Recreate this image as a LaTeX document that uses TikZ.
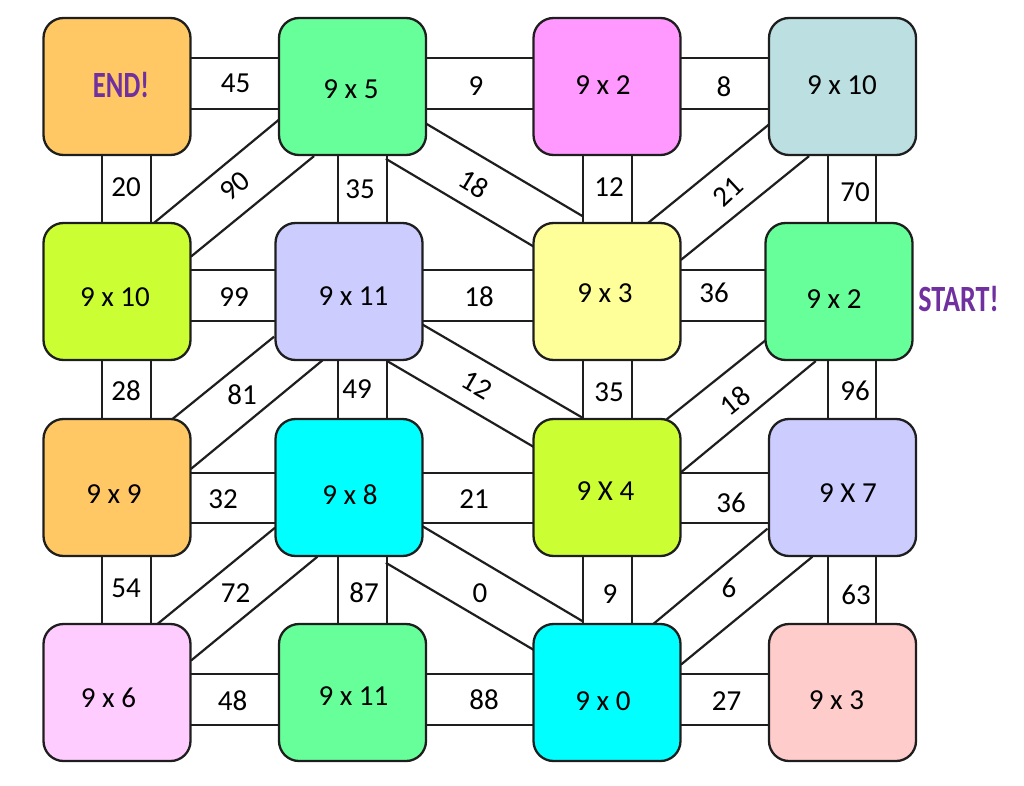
\documentclass[tikz,border=0pt]{standalone}
\usepackage{fontspec}
\setmainfont{Carlito}
\pgfdeclarelayer{bg}
\pgfsetlayers{bg,main}
\definecolor{cOr}{HTML}{FFC864}
\definecolor{cGr}{HTML}{66FF99}
\definecolor{cPk}{HTML}{FF99FF}
\definecolor{cTe}{HTML}{BCE0E2}
\definecolor{cLi}{HTML}{CCFF33}
\definecolor{cLa}{HTML}{CCCCFF}
\definecolor{cYe}{HTML}{FFFF99}
\definecolor{cCy}{HTML}{00FFFF}
\definecolor{cLp}{HTML}{FFCCFF}
\definecolor{cSa}{HTML}{FFCCCC}
\definecolor{cPu}{HTML}{7030A0}
\definecolor{cLn}{HTML}{1E1E1E}
\tikzset{
  box/.style={draw=cLn, line width=2.3pt, rounded corners=20pt,
    minimum width=147pt, minimum height=137pt, inner sep=0pt},
  wall/.style={draw=cLn, line width=2.2pt, shorten >=-1pt, shorten <=-1pt},
  num/.style={font=\fontsize{29}{33}\selectfont, text=black, inner sep=0pt},
  flag/.style={font=\fontsize{37}{40}\selectfont\bfseries, text=cPu, inner sep=0pt}
}
\newcommand\wall[4]{\draw[wall] ([shift={(#2)}]#1.center) -- ([shift={(#4)}]#3.center);}
\newcommand\hcorr[4]{\wall{#1}{0,#3}{#2}{0,#3}\wall{#1}{0,#4}{#2}{0,#4}}
\newcommand\vcorr[6]{\wall{#1}{#3,0}{#2}{#5,0}\wall{#1}{#4,0}{#2}{#6,0}}
\begin{document}
\begin{tikzpicture}[x=1pt,y=-1pt]
\useasboundingbox (0,0) rectangle (1024,786);
% boxes
\node[box,fill=cOr] (b11) at (117,86.5) {};
\node[box,fill=cGr] (b12) at (352.5,86.5) {};
\node[box,fill=cPk] (b13) at (607,86.5) {};
\node[box,fill=cTe] (b14) at (842.5,86.5) {};
\node[box,fill=cLi] (b21) at (117,291.5) {};
\node[box,fill=cLa] (b22) at (349,291.5) {};
\node[box,fill=cYe] (b23) at (607,291.5) {};
\node[box,fill=cGr] (b24) at (839,291.5) {};
\node[box,fill=cOr] (b31) at (117,487.5) {};
\node[box,fill=cCy] (b32) at (349,487.5) {};
\node[box,fill=cLi] (b33) at (607,487.5) {};
\node[box,fill=cLa] (b34) at (842.5,487.5) {};
\node[box,fill=cLp] (b41) at (117,692.5) {};
\node[box,fill=cGr] (b42) at (352.5,692.5) {};
\node[box,fill=cCy] (b43) at (607,692.5) {};
\node[box,fill=cSa] (b44) at (842.5,692.5) {};
% corridors
\begin{pgfonlayer}{bg}
\hcorr{b11}{b12}{-28.2}{22.5}\hcorr{b12}{b13}{-28.2}{22.5}\hcorr{b13}{b14}{-28.2}{22.5}
\hcorr{b21}{b22}{-21.5}{29.5}\hcorr{b22}{b23}{-21.5}{29.5}\hcorr{b23}{b24}{-21.5}{29.5}
\hcorr{b31}{b32}{-14.5}{35.5}\hcorr{b32}{b33}{-14.5}{35.5}\hcorr{b33}{b34}{-14.5}{35.5}
\hcorr{b41}{b42}{-18.2}{32.5}\hcorr{b42}{b43}{-18.2}{32.5}\hcorr{b43}{b44}{-18.2}{32.5}
\vcorr{b11}{b21}{-15}{34}{-15}{34}\vcorr{b21}{b31}{-15}{34}{-15}{34}\vcorr{b31}{b41}{-15}{34}{-15}{34}
\vcorr{b12}{b22}{-14.5}{34.5}{-11}{38}\vcorr{b22}{b32}{-11}{38}{-11}{38}\vcorr{b32}{b42}{-11}{38}{-14.5}{34.5}
\vcorr{b13}{b23}{-24}{25}{-24}{25}\vcorr{b23}{b33}{-24}{25}{-24}{25}\vcorr{b33}{b43}{-24}{25}{-24}{25}
\vcorr{b14}{b24}{-14.5}{33.5}{-11}{37}\vcorr{b24}{b34}{-11}{37}{-14.5}{33.5}\vcorr{b34}{b44}{-14.5}{33.5}{-14.5}{33.5}
% diagonals
\wall{b12}{-74.8,34.2}{b21}{37.3,-68.8}\wall{b12}{-39.2,70.2}{b21}{74.7,-35.5}
\wall{b12}{74.2,37.5}{b23}{-24.7,-75.5}\wall{b12}{34.2,72.8}{b23}{-74.3,-45.5}
\wall{b14}{-74.2,38.5}{b23}{41.3,-68.8}\wall{b14}{-34.2,70.2}{b23}{74.7,-32.2}
\wall{b22}{-75.7,45.8}{b31}{56.3,-69.2}\wall{b22}{-27.3,69.5}{b31}{74.7,-19.2}
\wall{b22}{74.3,33.5}{b33}{-25.3,-70.2}\wall{b22}{39.3,70.2}{b33}{-73.7,-40.8}
\wall{b24}{-74,49.2}{b33}{59.7,-68.2}\wall{b24}{-24,70.2}{b33}{74.7,-15.8}
\wall{b32}{-74.7,40.8}{b41}{41.3,-69.2}\wall{b32}{-32.3,69.8}{b41}{74.7,-32.5}
\wall{b32}{74.3,39.2}{b43}{-25.3,-71.8}\wall{b32}{37.7,75.8}{b43}{-74.3,-43.2}
\wall{b34}{-75.8,41.8}{b43}{46.3,-68.5}\wall{b34}{-30.8,69.8}{b43}{74.7,-28.5}
\end{pgfonlayer}
% box texts
\node[flag] (t11) at (121,85) {\scalebox{0.72}[1]{END!}};
\node[num] (t12) at (351,89) {9 x 5};
\node[num] (t13) at (603,85) {9 x 2};
\node[num] (t14) at (842,85) {9 x 10};
\node[num] (t21) at (115,297) {9 x 10};
\node[num] (t22) at (353.5,296) {9 x 11};
\node[num] (t23) at (605,293) {9 x 3};
\node[num] (t24) at (834,299) {9 x 2};
\node[flag] (tst) at (958.5,299) {\scalebox{0.76}[1]{START!}};
\node[num] (t31) at (114,494) {9 x 9};
\node[num] (t32) at (350,495) {9 x 8};
\node[num] (t33) at (605.5,491) {9 X 4};
\node[num] (t34) at (848,493) {9 X 7};
\node[num] (t41) at (108.5,698) {9 x 6};
\node[num] (t42) at (353.5,696) {9 x 11};
\node[num] (t43) at (603,701) {9 x 0};
\node[num] (t44) at (836.5,700) {9 x 3};
% corridor numbers
\node[num] (n1) at (235.5,83) {45};
\node[num] (n2) at (476,86) {9};
\node[num] (n3) at (724,87) {8};
\node[num] (n4) at (126,187.5) {20};
\node[num] (n5) at (360,189.5) {35};
\node[num] (n6) at (609,187) {12};
\node[num] (n7) at (855,192) {70};
\node[num,rotate=39] (n8) at (235,186) {90};
\node[num,rotate=-31] (n9) at (474,184) {18};
\node[num,rotate=43] (n10) at (728,192) {21};
\node[num] (n11) at (234,297) {99};
\node[num] (n12) at (479,297) {18};
\node[num] (n13) at (714,293) {36};
\node[num] (n14) at (126,391) {28};
\node[num] (n15) at (357,389) {49};
\node[num] (n16) at (609,392) {35};
\node[num] (n17) at (855,391) {96};
\node[num] (n18) at (242,395) {81};
\node[num,rotate=-30] (n19) at (477,385) {12};
\node[num,rotate=39] (n20) at (735,401) {18};
\node[num] (n21) at (223,499) {32};
\node[num] (n22) at (474,499) {21};
\node[num] (n23) at (731,503) {36};
\node[num] (n24) at (126,588) {54};
\node[num] (n25) at (235.5,593) {72};
\node[num] (n26) at (364,593) {87};
\node[num] (n27) at (480,593) {0};
\node[num] (n28) at (610,594) {9};
\node[num] (n29) at (729,588) {6};
\node[num] (n30) at (856,595) {63};
\node[num] (n31) at (232.5,701) {48};
\node[num] (n32) at (484,700) {88};
\node[num] (n33) at (726.5,701) {27};
\end{tikzpicture}
\end{document}
